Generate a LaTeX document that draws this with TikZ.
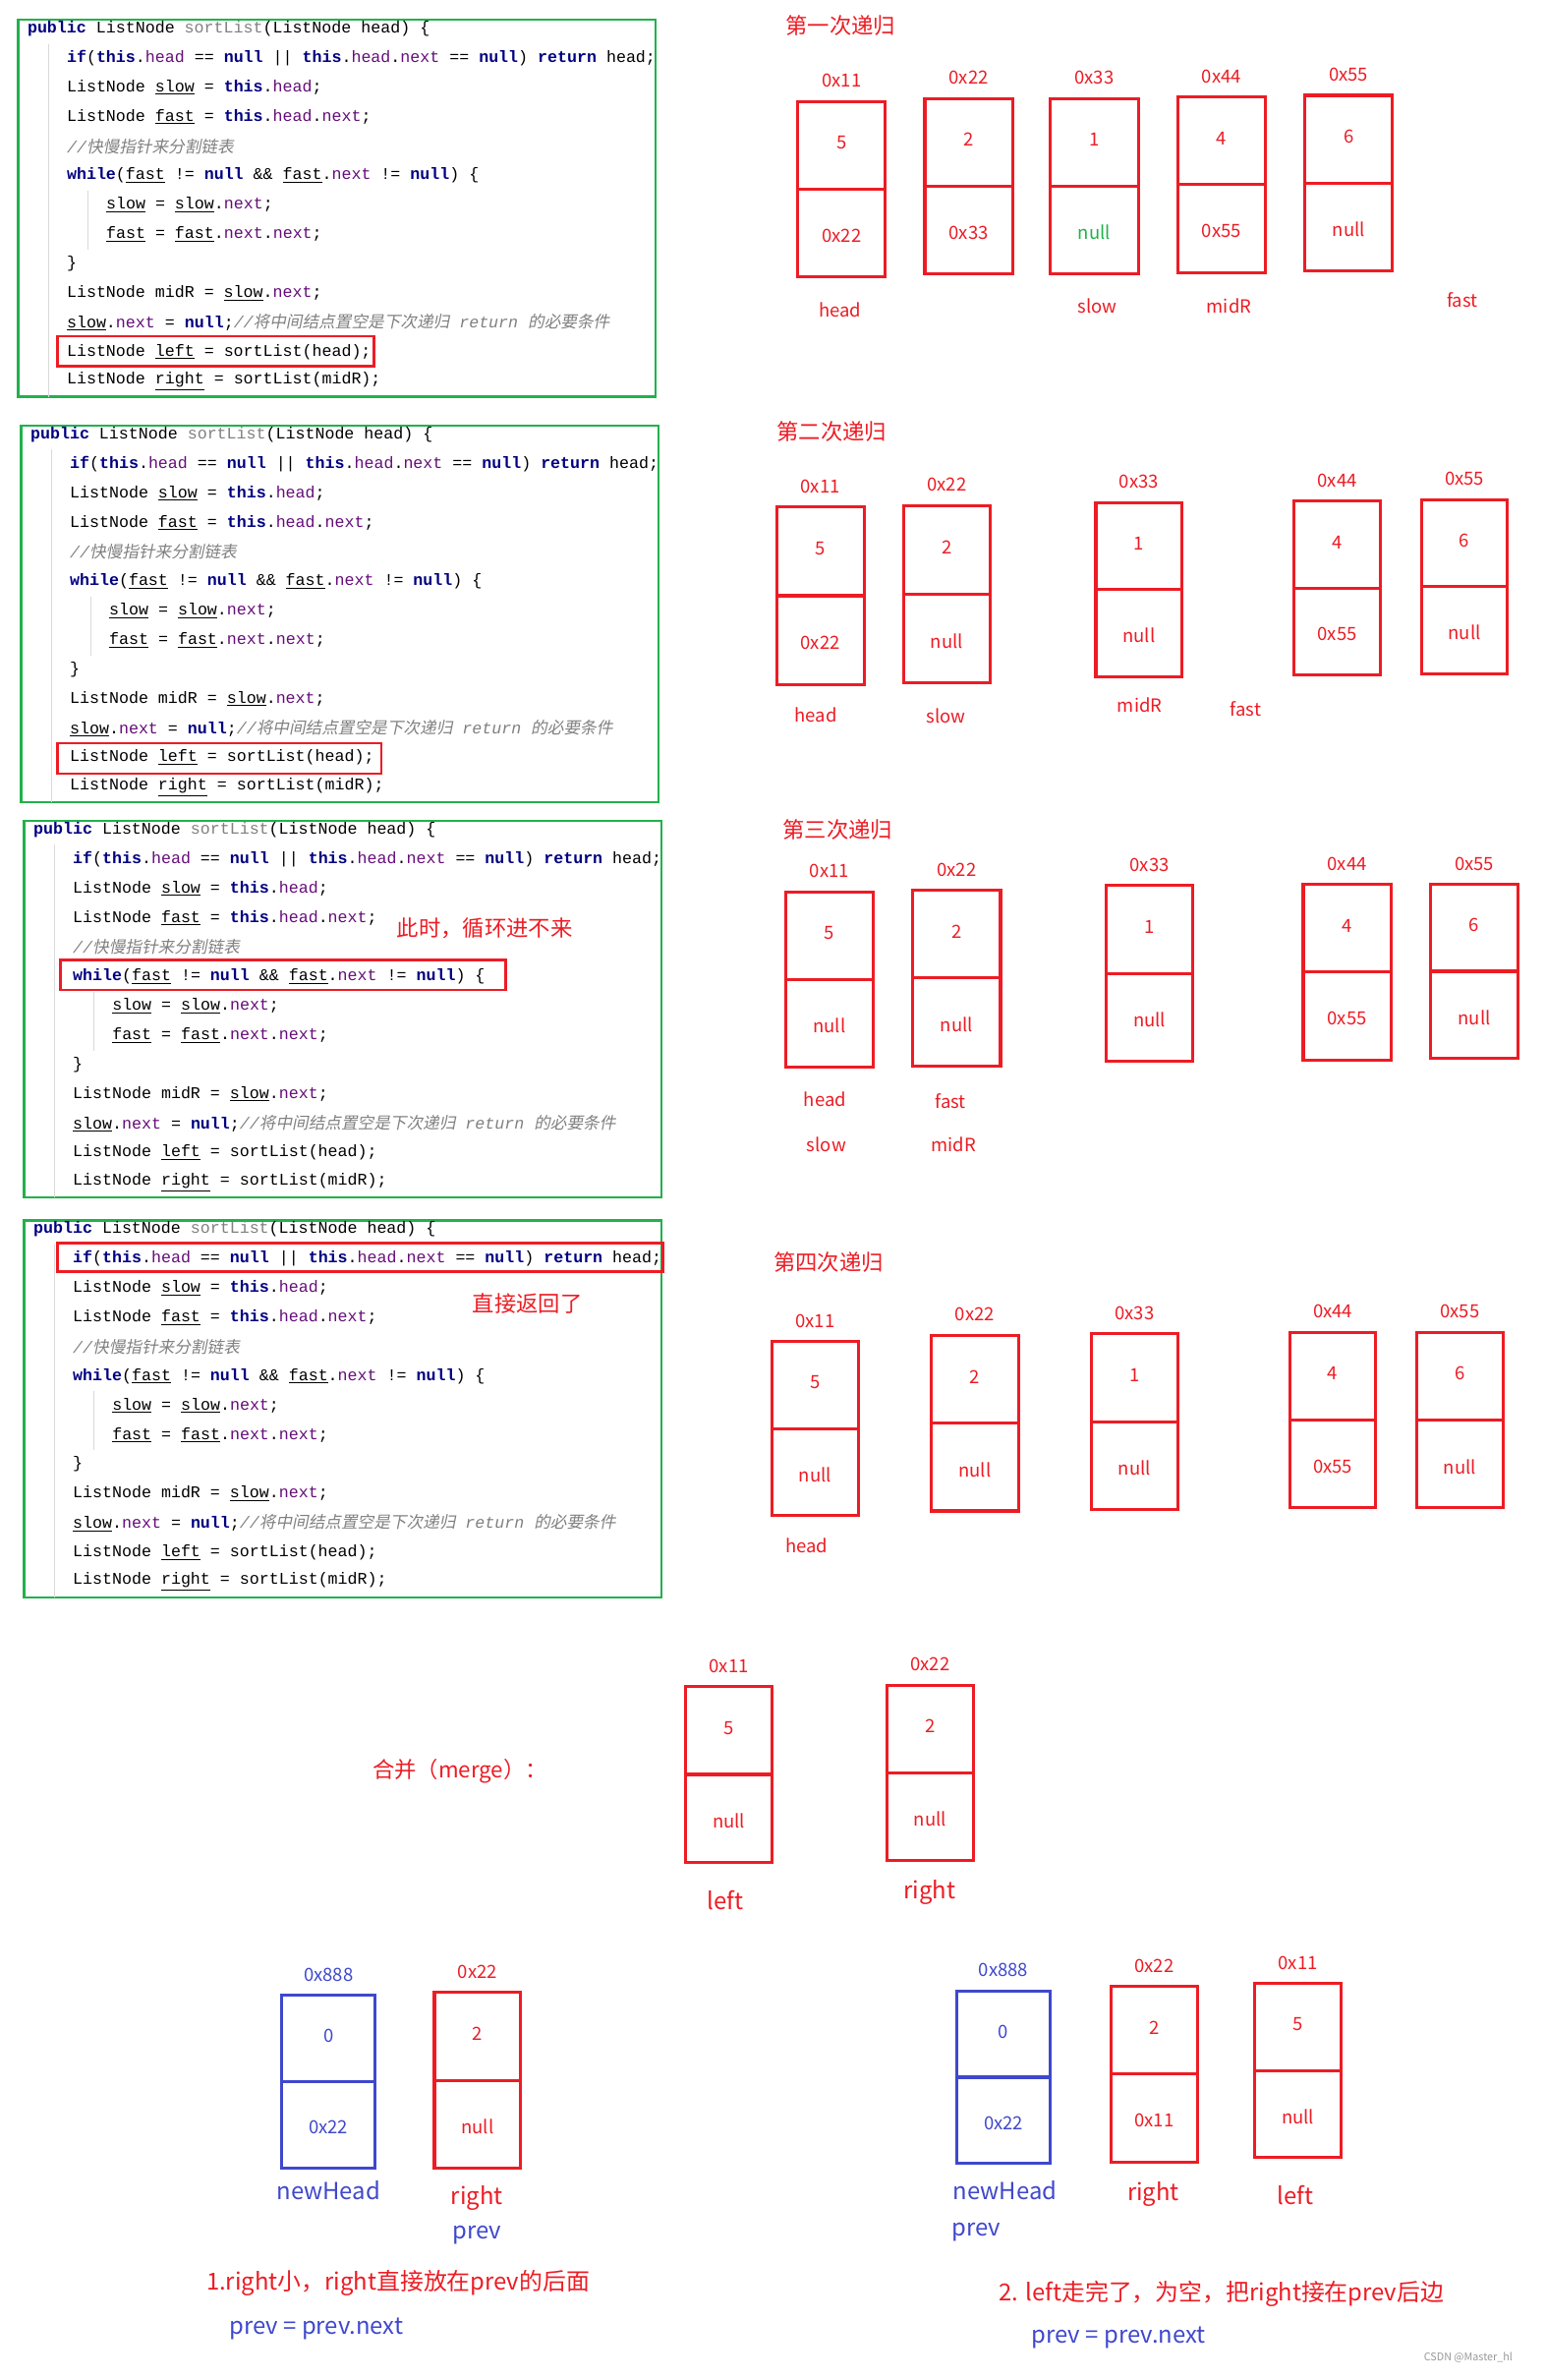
\documentclass[tikz,border=0pt]{standalone}
\usepackage{fontspec}
\setmainfont{Noto Sans CJK SC}
\setmonofont{Liberation Mono}
\newfontfamily\cjkit{Noto Sans CJK SC}[FakeSlant=0.2]
\usetikzlibrary{calc}
\definecolor{kwc}{RGB}{0,0,128}
\definecolor{fldc}{RGB}{102,14,122}
\definecolor{cmtc}{RGB}{128,128,128}
\definecolor{rd}{RGB}{237,28,36}
\definecolor{gr}{RGB}{34,177,76}
\definecolor{bl}{RGB}{63,72,204}
\definecolor{nullg}{RGB}{34,177,76}
\newcommand\kw[1]{\textcolor{kwc}{\bfseries #1}}
\newcommand\fd[1]{\textcolor{fldc}{#1}}
\newcommand\cm[1]{\textcolor{cmtc}{\itshape #1}}
\newcommand\cmz[1]{\textcolor{cmtc}{\cjkit #1}}
\tikzset{
 cl/.style={anchor=west,inner sep=0,font=\ttfamily\fontsize{10.8}{12}\selectfont},
 lab/.style={text=rd,font=\fontsize{12}{14}\selectfont,inner sep=0},
 big/.style={text=rd,font=\fontsize{15.5}{17}\selectfont,inner sep=0},
 ttl/.style={text=rd,font=\fontsize{14.5}{16}\selectfont,inner sep=0,anchor=west},
}
\newcommand\codeblk[3]{%
 \draw[gr,line width=1.6] (#1-6,#2-6) rectangle (#1+415,#2+243);
 \draw[black!15,line width=0.8] (#1+14,#2+10) -- (#1+14,#2+243);
 \draw[black!15,line width=0.8] (#1+40,#2+107) -- (#1+40,#2+146);
 \node[cl] (#3a) at (#1,#2) {\kw{public} ListNode \textcolor{cmtc}{sortList}(ListNode head) \{};
 \node[cl] (#3b) at (#1+26,#2+19.4) {\kw{if}(\kw{this}.\fd{head} == \kw{null} || \kw{this}.\fd{head}.\fd{next} == \kw{null}) \kw{return} head;};
 \node[cl] (#3c) at (#1+26,#2+38.8) {ListNode \underline{slow} = \kw{this}.\fd{head};};
 \node[cl] (#3d) at (#1+26,#2+58.2) {ListNode \underline{fast} = \kw{this}.\fd{head}.\fd{next};};
 \node[cl] (#3e) at (#1+26,#2+77.6) {\cm{//}\cmz{快慢指针来分割链表}};
 \node[cl] (#3f) at (#1+26,#2+97) {\kw{while}(\underline{fast} != \kw{null} \&\& \underline{fast}.\fd{next} != \kw{null}) \{};
 \node[cl] (#3g) at (#1+52,#2+116.4) {\underline{slow} = \underline{slow}.\fd{next};};
 \node[cl] (#3h) at (#1+52,#2+135.8) {\underline{fast} = \underline{fast}.\fd{next}.\fd{next};};
 \node[cl] (#3i) at (#1+26,#2+155.2) {\}};
 \node[cl] (#3j) at (#1+26,#2+174.6) {ListNode midR = \underline{slow}.\fd{next};};
 \node[cl] (#3k) at (#1+26,#2+194) {\underline{slow}.\fd{next} = \kw{null};\cm{//}\cmz{将中间结点置空是下次递归} \cm{return} \cmz{的必要条件}};
 \node[cl] (#3l) at (#1+26,#2+213.4) {ListNode \underline{left} = sortList(head);};
 \node[cl] (#3m) at (#1+26,#2+232.8) {ListNode \underline{right} = sortList(midR);};
}
% name, x1, y1, x2, y2, addr, top, bottom, color
\newcommand\cell[9]{%
 \node[draw=#9,line width=2,inner sep=0,minimum width={#4-#2},minimum height={#5-#3},anchor=north west] (#1) at (#2,#3) {};
 \draw[#9,line width=2] (#1.west) -- (#1.east);
 \node[lab,text=#9] at ($(#1.north)!0.24!(#1.south)$) {#7};
 \node[lab,text=#9] at ($(#1.north)!0.76!(#1.south)$) {#8};
 \node[lab,text=#9,anchor=south] at ($(#1.north)+(0,-8)$) {#6};
}
\begin{document}
\begin{tikzpicture}[x=1pt,y=-1pt]
\useasboundingbox (0,0) rectangle (1021,1572);
\fill[white] (0,0) rectangle (1021,1572);
% code blocks
\codeblk{18}{19}{A}
\draw[rd,line width=1.6] (38,222) rectangle (247,242);
\codeblk{20}{287}{B}
\draw[rd,line width=1.6] (38,491) rectangle (252,511);
\codeblk{22}{548}{C}
\draw[rd,line width=1.6] (40,634) rectangle (334,654);
\node[ttl] (ann1) at (262,613) {此时，循环进不来};
\codeblk{22}{812}{D}
\draw[rd,line width=1.6] (38,821) rectangle (438,840);
\node[ttl] (ann2) at (312,861) {直接返回了};
% first recursion
\node[ttl] (t1) at (519,17) {第一次递归};
\cell{a1}{526}{66}{584}{182}{0x11}{5}{0x22}{rd}
\cell{a2}{610}{64}{668}{180}{0x22}{2}{0x33}{rd}
\cell{a3}{693}{64}{751}{180}{0x33}{1}{\textcolor{nullg}{null}}{rd}
\cell{a4}{777}{63}{835}{179}{0x44}{4}{0x55}{rd}
\cell{a5}{861}{62}{919}{178}{0x55}{6}{null}{rd}
\node[lab] (h1) at (555,205) {head};
\node[lab] (s1) at (725,202) {slow};
\node[lab] (m1) at (812,202) {midR};
\node[lab] (f1) at (966,198) {fast};
% second
\node[ttl] (t2) at (513,285) {第二次递归};
\cell{b1}{512}{334}{570}{451}{0x11}{5}{0x22}{rd}
\cell{b2}{596}{333}{653}{450}{0x22}{2}{null}{rd}
\cell{b3}{723}{331}{780}{446}{0x33}{1}{null}{rd}
\cell{b4}{854}{330}{911}{445}{0x44}{4}{0x55}{rd}
\cell{b5}{938}{329}{995}{444}{0x55}{6}{null}{rd}
\node[lab] (h2) at (539,472) {head};
\node[lab] (s2) at (625,473) {slow};
\node[lab] (m2) at (753,466) {midR};
\node[lab] (f2) at (823,468) {fast};
% third
\node[ttl] (t3) at (517,548) {第三次递归};
\cell{c1}{518}{588}{576}{704}{0x11}{5}{null}{rd}
\cell{c2}{602}{587}{660}{703}{0x22}{2}{null}{rd}
\cell{c3}{730}{584}{787}{700}{0x33}{1}{null}{rd}
\cell{c4}{860}{583}{918}{699}{0x44}{4}{0x55}{rd}
\cell{c5}{944}{583}{1002}{698}{0x55}{6}{null}{rd}
\node[lab] (h3) at (545,726) {head};
\node[lab] (f3) at (628,727) {fast};
\node[lab] (s3) at (546,756) {slow};
\node[lab] (m3) at (630,756) {midR};
% fourth
\node[ttl] (t4) at (511,834) {第四次递归};
\cell{d1}{509}{885}{566}{1000}{0x11}{5}{null}{rd}
\cell{d2}{614}{881}{672}{997}{0x22}{2}{null}{rd}
\cell{d3}{720}{880}{777}{996}{0x33}{1}{null}{rd}
\cell{d4}{851}{879}{908}{995}{0x44}{4}{0x55}{rd}
\cell{d5}{935}{879}{992}{995}{0x55}{6}{null}{rd}
\node[lab] (h4) at (533,1021) {head};
% merge
\node[ttl] (mg) at (246,1170) {合并（merge）：};
\cell{e1}{452}{1113}{509}{1229}{0x11}{5}{null}{rd}
\cell{e2}{585}{1112}{642}{1228}{0x22}{2}{null}{rd}
\node[big] (le) at (479,1255) {left};
\node[big] (re) at (614,1250) {right};
% bottom left
\cell{g1}{185}{1317}{247}{1431}{0x888}{0}{0x22}{bl}
\cell{g2}{286}{1315}{343}{1431}{0x22}{2}{null}{rd}
\node[big,text=bl] (nh1) at (217,1447) {newHead};
\node[big] (r1) at (315,1452) {right};
\node[big,text=bl] (p1) at (315,1476) {prev};
\node[big] (n1) at (263,1508) {1.right小，right直接放在prev的后面};
\node[big,text=bl] (q1) at (209,1538) {prev = prev.next};
% bottom right
\cell{k1}{631}{1314}{693}{1428}{0x888}{0}{0x22}{bl}
\cell{k2}{733}{1311}{790}{1427}{0x22}{2}{0x11}{rd}
\cell{k3}{828}{1309}{885}{1424}{0x11}{5}{null}{rd}
\node[big,text=bl] (nh2) at (664,1447) {newHead};
\node[big,text=bl] (p2) at (645,1474) {prev};
\node[big] (r2) at (762,1449) {right};
\node[big] (l2) at (856,1450) {left};
\node[big] (n2) at (807,1515) {2. left走完了，为空，把right接在prev后边};
\node[big,text=bl] (q2) at (739,1544) {prev = prev.next};
\node[inner sep=0,text=black!40,font=\fontsize{7}{8}\selectfont] (wm) at (970,1557) {CSDN @Master\_hl};
\end{tikzpicture}
\end{document}
